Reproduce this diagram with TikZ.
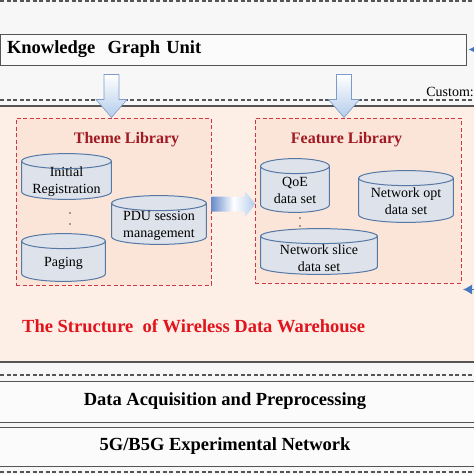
\documentclass[tikz,border=0pt]{standalone}
\usepackage{fontspec}
\setmainfont{Liberation Serif}
\usetikzlibrary{positioning,arrows.meta,calc}
\definecolor{wdBack}{RGB}{247,247,247}
\definecolor{wdWhite}{RGB}{251,251,251}
\definecolor{wdGray}{RGB}{85,85,85}
\definecolor{wdPeach}{RGB}{253,239,229}
\definecolor{wdPeachIn}{RGB}{251,229,216}
\definecolor{wdLib}{RGB}{205,55,70}
\definecolor{wdDarkRed}{RGB}{160,25,35}
\definecolor{wdRed}{RGB}{225,20,30}
\definecolor{wdStore}{RGB}{222,226,234}
\definecolor{wdStoreEdge}{RGB}{85,120,165}
\definecolor{wdArrow}{RGB}{180,204,234}
\definecolor{wdArrowEdge}{RGB}{125,155,200}
\definecolor{wdArrowDeep}{RGB}{105,140,205}
\definecolor{wdTip}{RGB}{70,120,190}
\tikzset{
    base/.style={font=\fontsize{14}{17}\selectfont, align=center, inner sep=0pt},
    layer/.style={rectangle, draw=wdGray, line width=1pt, fill=wdWhite,
                  font=\fontsize{18.5}{22}\selectfont\bfseries},
    sepline/.style={draw=wdGray, line width=1.2pt, dash pattern=on 4pt off 2.5pt},
    panel/.style={rectangle, draw=wdGray, line width=1.2pt, fill=wdPeach},
    library/.style={rectangle, draw=wdLib, line width=1pt,
                    dash pattern=on 4pt off 2.5pt, fill=wdPeachIn},
    libtitle/.style={base, font=\fontsize{16}{19}\selectfont\bfseries, text=wdDarkRed},
    % a cylinder drawn inside the node's box
    store/.style={rectangle, inner sep=0pt, fill=wdPeachIn, path picture={
      \path[fill=wdStore, draw=wdStoreEdge, line width=1pt]
        let \p1=(path picture bounding box.north west), \p2=(path picture bounding box.south east),
            \n1={(\x2-\x1)/2-0.6pt}, \n2={7.5pt} in
        (\x1+0.6pt,\y1-\n2-0.6pt) -- (\x1+0.6pt,\y2+\n2+0.6pt)
        arc[start angle=180, end angle=360, x radius=\n1, y radius=\n2]
        -- (\x2-0.6pt,\y1-\n2-0.6pt)
        arc[start angle=0, end angle=180, x radius=\n1, y radius=\n2] -- cycle
        (\x1+0.6pt,\y1-\n2-0.6pt) arc[start angle=180, end angle=360, x radius=\n1, y radius=\n2];
    }},
    storetext/.style={base, text=black},
    dotmark/.style={fill=black!70},
    flowdown/.style={draw=wdArrowEdge, line width=0.6pt, top color=white, bottom color=wdArrow},
    flowright/.style={left color=wdArrowDeep, right color=wdArrow, middle color=white},
    sidearrow/.style={-{Latex[length=9pt,width=10pt]}, line width=1pt, draw=wdTip}
}
\begin{document}
\begin{tikzpicture}[x=1pt,y=-1pt]
  \useasboundingbox (0,0) rectangle (474,474);
  \clip (0,0) rectangle (474,474);
  \fill[wdBack] (0,0) rectangle (474,474);

  % knowledge graph layer
  \draw[sepline] (0,1) -- (474,1);
  \node[layer, minimum height=31, text width=452, inner xsep=7, align=left] (kgu) at (233,49.5) {Knowledge\ \ Graph Unit};
  \coordinate (kguIn) at ($(kgu.east)+(2,0)$);
  \draw[sidearrow] ($(kgu.east)+(30,0)$) -- (kguIn);
  \node[base, anchor=east] (cust) at (474,92) {Custom:};
  \draw[sepline] (0,100) -- (474,100);

  % data warehouse panel
  \node[panel, minimum width=490, minimum height=256] (dw) at (237,234) {};
  \node[library, minimum width=195, minimum height=167] (theme) at (113.5,201.5) {};
  \node[library, minimum width=206, minimum height=165] (feature) at (358,200.5) {};
  \node[libtitle] (themeT) at ($(theme.north)+(13,22)$) {Theme Library};
  \node[libtitle] (featureT) at ($(feature.north)+(-11.5,22)$) {Feature Library};

  % theme stores
  \node[store, minimum width=91, minimum height=47] (init) at (66.5,176.5) {};
  \node[store, minimum width=85, minimum height=49] (paging) at (63.5,257.5) {};
  \node[store, minimum width=96, minimum height=50] (pdu) at (159,220) {};
  \node[storetext] at ($(init.center)+(0,5)$) {Initial\\Registration};
  \node[storetext] at ($(paging.center)+(0,5.5)$) {Paging};
  \node[storetext] at ($(pdu.center)+(0,5.5)$) {PDU session\\management};
  \foreach \y in {213,224} \fill[dotmark] (70,\y) circle (0.9pt);

  % feature stores
  \node[store, minimum width=70, minimum height=55] (qoe) at (295,185.5) {};
  \node[store, minimum width=96, minimum height=53] (nopt) at (406,196.5) {};
  \node[store, minimum width=118, minimum height=47] (nslice) at (319,251.5) {};
  \node[storetext] at ($(qoe.center)+(0,4.5)$) {QoE\\data set};
  \node[storetext] at ($(nopt.center)+(0,5)$) {Network opt\\data set};
  \node[storetext] at ($(nslice.center)+(0,7)$) {Network slice\\data set};
  \foreach \y in {218,226} \fill[dotmark] (300,\y) circle (0.9pt);

  \node[anchor=west, inner sep=0pt, font=\fontsize{18.5}{22}\selectfont\bfseries, text=wdRed] (dwT) at (22,326) {The Structure\ \ of Wireless Data Warehouse};
  \coordinate (dwIn) at (463,289.5);
  \draw[sidearrow] (495,289.5) -- (dwIn);

  % block arrows
  \coordinate (tipT) at ($(theme.north)+(-2,0)$);
  \coordinate (tipF) at ($(feature.north)+(-14,0)$);
  \foreach \t in {tipT,tipF}
    \shadedraw[flowdown] ($(\t)+(-7.5,-43)$) -- ++(15,0) -- ++(0,25) -- ++(8,0) -- (\t)
      -- ++(-15.5,-18) -- ++(8,0) -- cycle;
  \coordinate (tipR) at ($(theme.east)+(44,2.5)$);
  \shade[flowright] ($(theme.east)+(0,-5)$) -- ++(33,0) -- ++(0,-6) -- (tipR)
    -- ++(-11,13.5) -- ++(0,-6) -- ++(-33,0) -- cycle;

  % lower layers
  \draw[sepline] (0,375) -- (474,375);
  \node[layer, minimum width=520, minimum height=41] (dap) at (225,401.5) {Data Acquisition and Preprocessing};
  \node[layer, minimum width=520, minimum height=39] (net) at (225,446.5) {5G/B5G Experimental Network};
  \draw[sepline] (0,472) -- (474,472);
\end{tikzpicture}
\end{document}
